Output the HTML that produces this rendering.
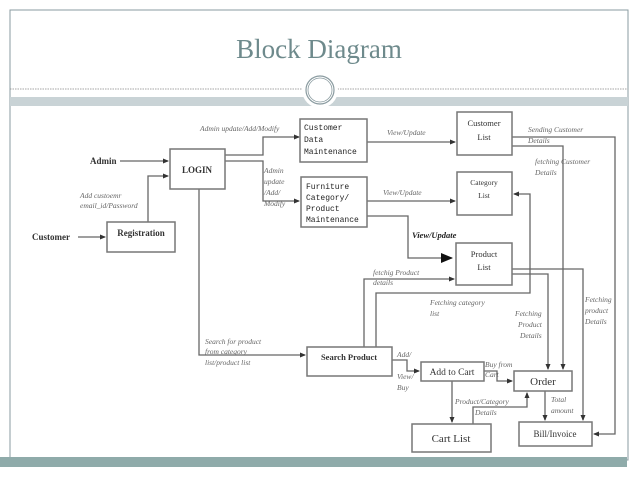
<!DOCTYPE html>
<html><head><meta charset="utf-8"><style>
html,body{margin:0;padding:0;background:#fff;}
svg{display:block}
.l{fill:none;stroke:#666;stroke-width:1.3}
.b{fill:#fff;stroke:#777;stroke-width:1.5}
.t{font-family:"Liberation Serif",serif;font-size:7.5px;font-style:italic;fill:#666}
.n{font-family:"Liberation Serif",serif;font-size:9px;font-weight:bold;fill:#333}
.r{font-family:"Liberation Serif",serif;font-size:9px;font-weight:normal;fill:#333}
.m{font-family:"Liberation Mono",monospace;font-size:8px;fill:#222}
</style></head><body>
<svg width="638" height="479" viewBox="0 0 638 479" xmlns="http://www.w3.org/2000/svg">
<defs><marker id="a" markerWidth="6" markerHeight="6" refX="5" refY="3" orient="auto" markerUnits="userSpaceOnUse"><path d="M0,0.5 L6,3 L0,5.5z" fill="#333"/></marker>
<marker id="A" markerWidth="12" markerHeight="10" refX="11" refY="5" orient="auto" markerUnits="userSpaceOnUse"><path d="M0,0 L12,5 L0,10z" fill="#111"/></marker></defs>
<rect x="10" y="10" width="618" height="450" fill="none" stroke="#8a9ba0" stroke-width="1"/>
<text x="319" y="58" text-anchor="middle" font-family="Liberation Serif,serif" font-size="27" fill="#6e8a8c">Block Diagram</text>
<line x1="10" y1="89" x2="628" y2="89" stroke="#888" stroke-width="0.8" stroke-dasharray="1.5,1"/>
<rect x="10" y="97" width="618" height="9" fill="#c9d3d6"/>
<circle cx="320" cy="90" r="18" fill="#fff"/>
<circle cx="320" cy="90" r="14" fill="#fff" stroke="#8a9ba0" stroke-width="1.2"/>
<circle cx="320" cy="90" r="12" fill="none" stroke="#8a9ba0" stroke-width="0.8"/>
<rect x="0" y="457" width="627" height="10" fill="#8fabaa"/>

<path class="l" d="M120,161 H168" marker-end="url(#a)"/>
<path class="l" d="M148,222 V176 H168" marker-end="url(#a)"/>
<path class="l" d="M78,237 H105" marker-end="url(#a)"/>
<path class="l" d="M225,155 H263 V137 H299" marker-end="url(#a)"/>
<path class="l" d="M225,161 H263 V201 H299" marker-end="url(#a)"/>
<path class="l" d="M199,189 V355 H305" marker-end="url(#a)"/>
<path class="l" d="M367,142 H455" marker-end="url(#a)"/>
<path class="l" d="M367,201 H455" marker-end="url(#a)"/>
<path class="l" d="M367,216 H408 V258 H452" stroke="#222" marker-end="url(#A)"/>
<path class="l" d="M512,137 H615 V434 H594" marker-end="url(#a)"/>
<path class="l" d="M512,146 H563 V369" marker-end="url(#a)"/>
<path class="l" d="M376,347 V293 H530 V194 H514" marker-end="url(#a)"/>
<path class="l" d="M364,347 V279 H454" marker-end="url(#a)"/>
<path class="l" d="M512,269 H583 V420" marker-end="url(#a)"/>
<path class="l" d="M512,274 H548 V369" marker-end="url(#a)"/>
<path class="l" d="M392,360 H407 V371 H419" marker-end="url(#a)"/>
<path class="l" d="M484,371 H497 V381 H512" marker-end="url(#a)"/>
<path class="l" d="M452,381 V422" marker-end="url(#a)"/>
<path class="l" d="M473,424 V407 H527 V393" marker-end="url(#a)"/>
<path class="l" d="M545,391 V420" marker-end="url(#a)"/>

<rect class="b" x="170" y="149" width="55" height="40"/>
<text class="n" x="197" y="173" text-anchor="middle" font-size="10">LOGIN</text>
<rect class="b" x="107" y="222" width="68" height="30"/>
<text class="n" x="141" y="236" text-anchor="middle">Registration</text>
<text class="n" x="90" y="164">Admin</text>
<text class="n" x="32" y="240">Customer</text>
<rect class="b" x="300" y="119" width="67" height="43"/>
<text class="m"><tspan x="304" y="130">Customer</tspan><tspan x="304" y="142">Data</tspan><tspan x="304" y="154">Maintenance</tspan></text>
<rect class="b" x="301" y="177" width="66" height="50"/>
<text class="m"><tspan x="306" y="189">Furniture</tspan><tspan x="306" y="200">Category/</tspan><tspan x="306" y="211">Product</tspan><tspan x="306" y="222">Maintenance</tspan></text>
<rect class="b" x="457" y="112" width="55" height="43"/>
<text class="r" x="484" y="126" text-anchor="middle" style="font-size:8.5px">Customer</text>
<text class="r" x="484" y="140" text-anchor="middle" style="font-size:8.5px">List</text>
<rect class="b" x="457" y="172" width="55" height="43"/>
<text class="r" x="484" y="185" text-anchor="middle" style="font-size:7.5px">Category</text>
<text class="r" x="484" y="198" text-anchor="middle" style="font-size:7.5px">List</text>
<rect class="b" x="456" y="243" width="56" height="42"/>
<text class="r" x="484" y="257" text-anchor="middle" style="font-size:8.5px">Product</text>
<text class="r" x="484" y="270" text-anchor="middle" style="font-size:8.5px">List</text>
<rect class="b" x="307" y="347" width="85" height="29"/>
<text class="r" x="349" y="360" text-anchor="middle" style="font-size:8.5px;font-weight:bold">Search Product</text>
<rect class="b" x="421" y="362" width="63" height="19"/>
<text class="r" x="452" y="375" text-anchor="middle" style="font-size:9.5px">Add to Cart</text>
<rect class="b" x="514" y="371" width="58" height="20"/>
<text class="r" x="543" y="385" text-anchor="middle" style="font-size:11px">Order</text>
<rect class="b" x="412" y="424" width="79" height="28"/>
<text class="r" x="451" y="442" text-anchor="middle" style="font-size:11px">Cart List</text>
<rect class="b" x="519" y="422" width="73" height="24"/>
<text class="r" x="555" y="437" text-anchor="middle" style="font-size:9px">Bill/Invoice</text>

<text class="t" x="200" y="131">Admin update/Add/Modify</text>
<text class="t"><tspan x="264" y="173">Admin</tspan><tspan x="264" y="184">update</tspan><tspan x="264" y="195">/Add/</tspan><tspan x="264" y="206">Modify</tspan></text>
<text class="t"><tspan x="80" y="198">Add custoemr</tspan><tspan x="80" y="208">email_id/Password</tspan></text>
<text class="t" x="387" y="135">View/Update</text>
<text class="t" x="383" y="195">View/Update</text>
<text x="412" y="238" font-family="Liberation Serif,serif" font-size="8.5" font-style="italic" font-weight="bold" fill="#222">View/Update</text>
<text class="t"><tspan x="528" y="132">Sending Customer</tspan><tspan x="528" y="143">Details</tspan></text>
<text class="t"><tspan x="535" y="164">fetching Customer</tspan><tspan x="535" y="175">Details</tspan></text>
<text class="t"><tspan x="373" y="275">fetchig Product</tspan><tspan x="373" y="285">details</tspan></text>
<text class="t"><tspan x="430" y="305">Fetching category</tspan><tspan x="430" y="316">list</tspan></text>
<text class="t"><tspan x="515" y="316">Fetching</tspan><tspan x="518" y="327">Product</tspan><tspan x="520" y="338">Details</tspan></text>
<text class="t"><tspan x="585" y="302">Fetching</tspan><tspan x="585" y="313">product</tspan><tspan x="585" y="324">Details</tspan></text>
<text class="t"><tspan x="205" y="344">Search for product</tspan><tspan x="205" y="354">from category</tspan><tspan x="205" y="365">list/product list</tspan></text>
<text class="t"><tspan x="397" y="357">Add/</tspan><tspan x="397" y="379">View/</tspan><tspan x="397" y="390">Buy</tspan></text>
<text class="t"><tspan x="485" y="367">Buy from</tspan><tspan x="485" y="377">Cart</tspan></text>
<text class="t"><tspan x="455" y="404">Product/Category</tspan><tspan x="475" y="415">Details</tspan></text>
<text class="t"><tspan x="551" y="402">Total</tspan><tspan x="551" y="413">amount</tspan></text>
</svg>
</body></html>
